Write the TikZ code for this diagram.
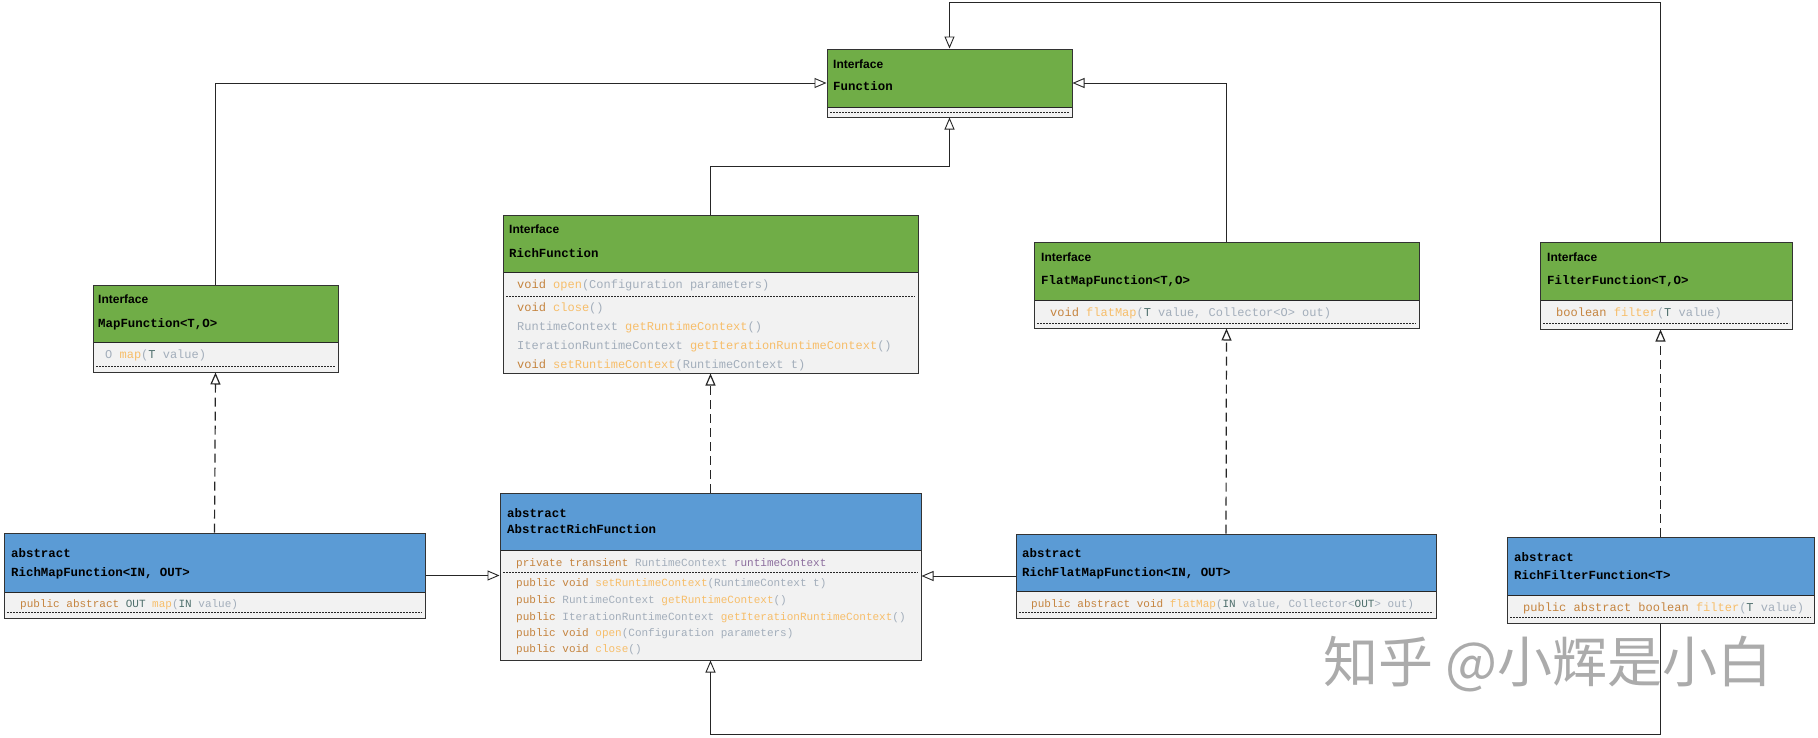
\documentclass[tikz,border=0pt]{standalone}
\usepackage{fontspec}
\setmainfont{Liberation Serif}
\setsansfont{Liberation Sans}
\setmonofont{Liberation Mono}
\newfontfamily\cjk{Noto Sans CJK SC}
\usetikzlibrary{arrows.meta,fit}
\definecolor{hdgreen}{HTML}{70AD47}
\definecolor{hdblue}{HTML}{5B9BD5}
\definecolor{bodyfill}{HTML}{F2F2F2}
\definecolor{kwc}{HTML}{C5843F}
\definecolor{mtc}{HTML}{F7BE6A}
\definecolor{tyc}{HTML}{A3AEBB}
\definecolor{fdc}{HTML}{8C6E9E}
\definecolor{tpc}{HTML}{4E6F6C}
\definecolor{wmc}{HTML}{ABABAB}
\newcommand\kw[1]{\textcolor{kwc}{#1}}
\newcommand\mt[1]{\textcolor{mtc}{#1}}
\newcommand\ty[1]{\textcolor{tyc}{#1}}
\newcommand\fd[1]{\textcolor{fdc}{#1}}
\newcommand\tp[1]{\textcolor{tpc}{#1}}
% #1 name, #2 x1, #3 y1, #4 x2, #5 y2, #6 header bottom, #7 colour, #8 dashed line y
\newcommand\umlbox[8]{%
  \fill[bodyfill] (#2,#6) rectangle (#4,#5);
  \fill[#7] (#2,#3) rectangle (#4,#6);
  \draw[boxline] (#2,#6) -- (#4,#6);
  \draw[sepline] (#2+3,#8) -- (#4-3,#8);
  \node[boxframe, fit={(#2,#3) (#4,#5)}] (#1) {};
}
\tikzset{
  boxline/.style={draw=black!85, line width=1pt},
  boxframe/.style={draw=black!80, line width=1pt, inner sep=0pt},
  sepline/.style={draw=black!85, line width=0.9pt, dash pattern=on 2pt off 1pt},
  hdr/.style={anchor=base west, inner sep=0pt, font=\sffamily\bfseries\fontsize{12}{14}\selectfont},
  nm/.style={anchor=base west, inner sep=0pt, font=\ttfamily\bfseries\fontsize{12.4}{14}\selectfont},
  bd/.style={anchor=base west, inner sep=0pt, text=tyc, font=\ttfamily\fontsize{12}{14}\selectfont},
  bds/.style={anchor=base west, inner sep=0pt, text=tyc, font=\ttfamily\fontsize{11}{13}\selectfont},
  conn/.style={draw=black!85, line width=0.9pt},
  inh/.style={conn, -{Triangle[open, length=12pt, width=10pt]}},
  real/.style={inh, line width=1.2pt, dash pattern=on 9pt off 5pt},
}
\begin{document}
\begin{tikzpicture}[x=1pt,y=-1pt]
\fill[white] (0,0) rectangle (1818,737);
\useasboundingbox (0,0) rectangle (1818,737);

% watermark
\node[anchor=west, inner sep=0pt, text=wmc, font=\cjk\fontsize{55}{60}\selectfont] (wm) at (1323,664) {知乎 @小辉是小白};

% boxes
\umlbox{fn}{827}{49}{1072}{117}{107}{hdgreen}{112}
\umlbox{richf}{503}{215}{918}{373}{272}{hdgreen}{296}
\umlbox{mapf}{93}{285}{338}{372}{342}{hdgreen}{366}
\umlbox{flatf}{1034}{242}{1419}{328}{300}{hdgreen}{323}
\umlbox{filtf}{1540}{242}{1792}{329}{300}{hdgreen}{323}
\umlbox{richmap}{4}{533}{425}{618}{592}{hdblue}{612}
\umlbox{abs}{500}{493}{921}{660}{550}{hdblue}{572}
\umlbox{richflat}{1016}{534}{1436}{618}{591}{hdblue}{612}
\umlbox{richfilt}{1507}{537}{1814}{623}{595}{hdblue}{617}

% Function
\node[hdr] (fn-h) at (833,68) {Interface};
\node[nm] (fn-n) at (833,90) {Function};

% RichFunction
\node[hdr] (richf-h) at (509,233) {Interface};
\node[nm] (richf-n) at (509,257) {RichFunction};
\node[bd] (richf-1) at (517,288) {\kw{void} \mt{open}(Configuration parameters)};
\node[bd] (richf-2) at (517,311) {\kw{void} \mt{close}()};
\node[bd] (richf-3) at (517,330) {RuntimeContext \mt{getRuntimeContext}()};
\node[bd] (richf-4) at (517,349) {IterationRuntimeContext \mt{getIterationRuntimeContext}()};
\node[bd] (richf-5) at (517,368) {\kw{void} \mt{setRuntimeContext}(RuntimeContext t)};

% MapFunction
\node[hdr] (mapf-h) at (98,303) {Interface};
\node[nm] (mapf-n) at (98,327) {MapFunction<T,O>};
\node[bd] (mapf-1) at (105,358) {O \mt{map}(\tp{T} value)};

% FlatMapFunction
\node[hdr] (flatf-h) at (1041,261) {Interface};
\node[nm] (flatf-n) at (1041,284) {FlatMapFunction<T,O>};
\node[bd] (flatf-1) at (1050,316) {\kw{void} \mt{flatMap}(\tp{T} value, Collector<O> out)};

% FilterFunction
\node[hdr] (filtf-h) at (1547,261) {Interface};
\node[nm] (filtf-n) at (1547,284) {FilterFunction<T,O>};
\node[bd] (filtf-1) at (1556,316) {\kw{boolean} \mt{filter}(\tp{T} value)};

% RichMapFunction
\node[nm] (richmap-h) at (11,557) {abstract};
\node[nm] (richmap-n) at (11,576) {RichMapFunction<IN, OUT>};
\node[bds] (richmap-1) at (20,607) {\kw{public abstract} \tp{OUT} \mt{map}(\tp{IN} value)};

% AbstractRichFunction
\node[nm] (abs-h) at (507,517) {abstract};
\node[nm] (abs-n) at (507,533) {AbstractRichFunction};
\node[bds] (abs-1) at (516,566) {\kw{private transient} RuntimeContext \fd{runtimeContext}};
\node[bds] (abs-2) at (516,586) {\kw{public void} \mt{setRuntimeContext}(RuntimeContext t)};
\node[bds] (abs-3) at (516,603) {\kw{public} RuntimeContext \mt{getRuntimeContext}()};
\node[bds] (abs-4) at (516,620) {\kw{public} IterationRuntimeContext \mt{getIterationRuntimeContext}()};
\node[bds] (abs-5) at (516,636) {\kw{public void} \mt{open}(Configuration parameters)};
\node[bds] (abs-6) at (516,652) {\kw{public void} \mt{close}()};

% RichFlatMapFunction
\node[nm] (richflat-h) at (1022,557) {abstract};
\node[nm] (richflat-n) at (1022,576) {RichFlatMapFunction<IN, OUT>};
\node[bds] (richflat-1) at (1031,607) {\kw{public abstract void} \mt{flatMap}(\tp{IN} value, Collector<\tp{OUT}> out)};

% RichFilterFunction
\node[nm] (richfilt-h) at (1514,561) {abstract};
\node[nm] (richfilt-n) at (1514,579) {RichFilterFunction<T>};
\node[bd] (richfilt-1) at (1523,611) {\kw{public abstract boolean} \mt{filter}(\tp{T} value)};

% generalisation connectors
\draw[inh] (mapf.north) |- (fn.west);
\draw[inh] (flatf.north) |- (fn.east);
\draw[inh] (richf.north) -- (richf.north |- 0,166) -| (fn.south);
\draw[inh] (richfilt.north |- filtf.north) -- (richfilt.north |- 0,2) -| (fn.north);
\draw[inh] (richmap.east) -- (richmap.east -| abs.west);
\draw[inh] (richflat.west) -- (richflat.west -| abs.east);
\draw[inh] (richfilt.south) -- (richfilt.south |- 0,734) -| (abs.south);

% realisation connectors
\draw[real] (richmap.north) -- (mapf.south);
\draw[real] (abs.north) -- (richf.south);
\draw[real] (richflat.north) -- (flatf.south);
\draw[real] (richfilt.north) -- (richfilt.north |- filtf.south);
\end{tikzpicture}
\end{document}
